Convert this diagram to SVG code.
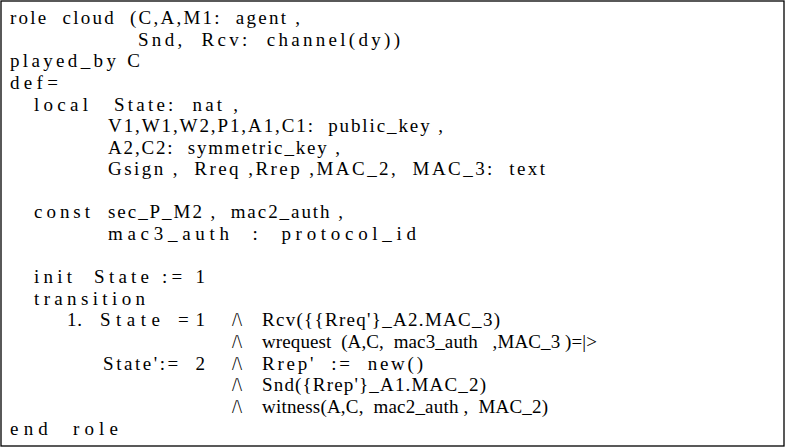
<svg xmlns="http://www.w3.org/2000/svg" width="785" height="447" viewBox="0 0 785 447">
<style>
text{font-family:"Liberation Serif","DejaVu Serif",serif;font-size:19px;fill:#000;white-space:pre}
.w{font-size:18px}
</style>
<rect x="0" y="0" width="785" height="447" fill="#fff"/>
<rect x="1" y="1" width="783" height="445" fill="none" stroke="#000" stroke-width="1.3"/>
<g id="code" xml:space="preserve">
<text x="10" y="24" textLength="290" lengthAdjust="spacing">role  cloud  (C,A,M1:  agent ,</text>
<text x="138" y="46" textLength="262" lengthAdjust="spacing">Snd,  Rcv:  channel(dy))</text>
<text x="10" y="67" textLength="130" lengthAdjust="spacing">played_by C</text>
<text x="10" y="89" textLength="48" lengthAdjust="spacing">def=</text>
<text x="34" y="111" textLength="54" lengthAdjust="spacing">local</text>
<text x="114" y="111" textLength="124" lengthAdjust="spacing">State:  nat ,</text>
<text x="108" y="132" textLength="335" lengthAdjust="spacing">V1,W1,W2,P1,A1,C1:  public_key ,</text>
<text x="108" y="154" textLength="232" lengthAdjust="spacing">A2,C2:  symmetric_key ,</text>
<text x="108" y="175" textLength="437" lengthAdjust="spacing">Gsign ,  Rreq ,Rrep ,MAC_2,  MAC_3:  text</text>
<text x="34" y="218" textLength="56" lengthAdjust="spacing">const</text>
<text x="108" y="218" textLength="235" lengthAdjust="spacing">sec_P_M2 ,  mac2_auth ,</text>
<text x="108" y="240" textLength="308" lengthAdjust="spacing">mac3_auth  :  protocol_id</text>
<text x="34" y="283" textLength="171" lengthAdjust="spacing">init  State := 1</text>
<text x="34" y="305" textLength="111" lengthAdjust="spacing">transition</text>
<text x="67" y="326" textLength="15" lengthAdjust="spacing">1.</text>
<text x="100" y="326" textLength="60" lengthAdjust="spacing">State</text>
<text x="178" y="326" textLength="27" lengthAdjust="spacing">= 1</text>
<text class="w" x="232" y="326">/\</text>
<text x="262" y="326" textLength="238" lengthAdjust="spacing">Rcv({{Rreq'}_A2.MAC_3)</text>
<text class="w" x="232" y="348">/\</text>
<text x="262" y="348" textLength="335" lengthAdjust="spacing">wrequest  (A,C,  mac3_auth   ,MAC_3 )=|&gt;</text>
<text x="103" y="370" textLength="102" lengthAdjust="spacing">State':=  2</text>
<text class="w" x="232" y="370">/\</text>
<text x="262" y="370" textLength="161" lengthAdjust="spacing">Rrep'  :=  new()</text>
<text class="w" x="232" y="391">/\</text>
<text x="262" y="391" textLength="224" lengthAdjust="spacing">Snd({Rrep'}_A1.MAC_2)</text>
<text class="w" x="232" y="413">/\</text>
<text x="262" y="413" textLength="286" lengthAdjust="spacing">witness(A,C,  mac2_auth ,  MAC_2)</text>
<text x="10" y="435" textLength="108" lengthAdjust="spacing">end  role</text>
</g>
</svg>
